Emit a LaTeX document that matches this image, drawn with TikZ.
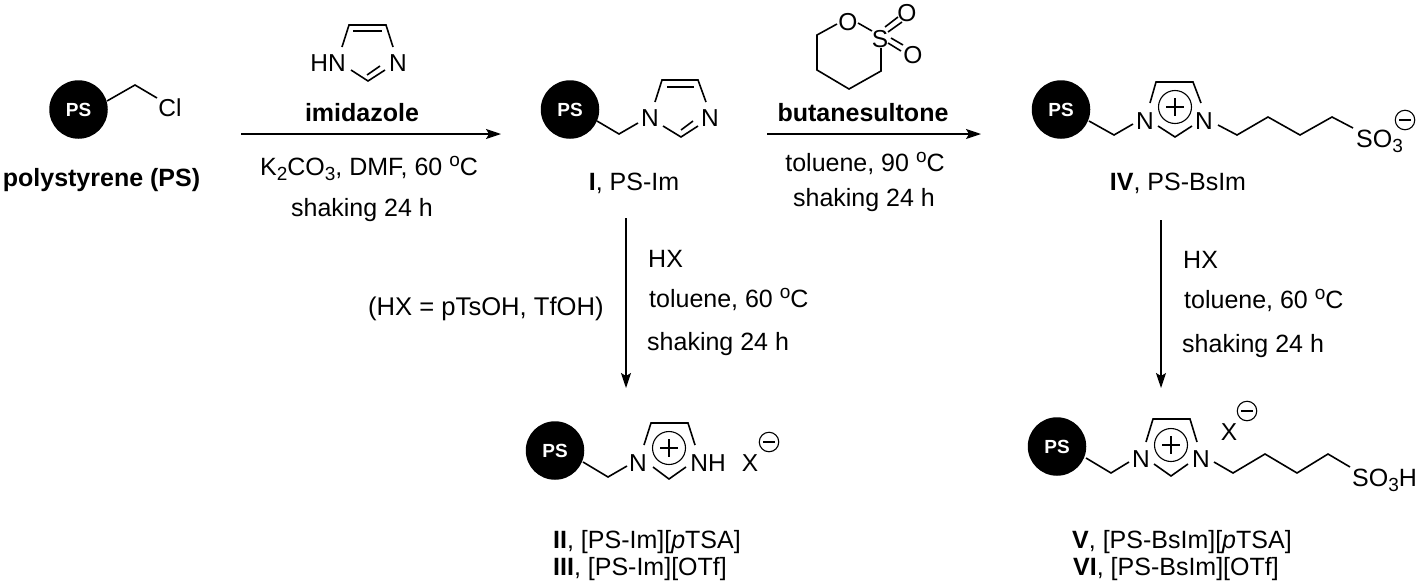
\documentclass[tikz,border=0pt]{standalone}
\usepackage{fontspec}
\setmainfont{Liberation Sans}
\usetikzlibrary{arrows.meta,calc}
\newcommand{\lowr}[1]{\raisebox{-5pt}{\fontsize{19}{20}\selectfont #1}}
\newcommand{\upr}[1]{\raisebox{9pt}{\fontsize{19}{20}\selectfont #1}}
\tikzset{
  ball/.style={circle,fill=black,text=white,minimum size=58.5pt,inner sep=0pt,font=\fontsize{19}{20}\selectfont\bfseries},
  atom/.style={inner sep=0pt,font=\fontsize{24.5}{28}\selectfont},
  txt/.style={inner sep=0pt,anchor=base,font=\fontsize{25}{28}\selectfont},
  txtl/.style={inner sep=0pt,anchor=base west,font=\fontsize{25}{28}\selectfont},
  bond/.style={line width=1.6pt,line join=miter},
  rxn/.style={line width=1.4pt,-{Stealth[length=15pt,width=10pt,inset=3pt]}},
  chargeplus/.style={circle,draw,line width=1.1pt,minimum size=33pt,inner sep=0pt},
  chargeminus/.style={circle,draw,line width=1.1pt,minimum size=19.5pt,inner sep=0pt},
  sign/.style={line width=1.1pt}
}
\newcommand{\plusin}[1]{\draw[sign] ($(#1)+(-9,0)$) -- ($(#1)+(9,0)$) ($(#1)+(0,-9)$) -- ($(#1)+(0,9)$);}
\newcommand{\minusin}[1]{\draw[sign] ($(#1)+(-6,0)$) -- ($(#1)+(6,0)$);}
\begin{document}
\begin{tikzpicture}[x=1pt,y=-1pt]
\useasboundingbox (0,0) rectangle (1419,582);
% polystyrene
\node[ball] (ps0) at (78.5,109.5) {PS};
\node[atom] (cl) at (170,108) {Cl};
\draw[bond] (107,101) -- (135,85) -- (157,98);
\node[txt] (l0) at (101.5,186) {\bfseries polystyrene (PS)};
% imidazole
\node[atom] (hn) at (328,63) {HN};
\node[atom] (n0) at (398,63) {N};
\draw[bond] (342,47) -- (349,25) -- (386,25) -- (393,47);
\draw[bond] (353,31) -- (382,31);
\draw[bond] (351,70) -- (368,81) -- (385,70);
\draw[bond] (367,75) -- (380,66);
\node[txt] (imi) at (362,121) {\bfseries imidazole};
\coordinate (a1s) at (241,134);
\coordinate (a1e) at (501,134);
\draw[rxn] (a1s) -- (a1e);
\node[txt] (c1) at (369,175) {K\lowr{2}CO\lowr{3}, DMF, 60 \upr{o}C};
\node[txt] (c2) at (362,216) {shaking 24 h};
% I
\node[ball] (ps1) at (570,109.5) {PS};
\node[atom] (n1a) at (650,118) {N};
\node[atom] (n1b) at (710,118) {N};
\draw[bond] (597,121) -- (619,134) -- (638,123);
\draw[bond] (655,102) -- (662,80) -- (698,80) -- (706,102);
\draw[bond] (667,87) -- (694,87);
\draw[bond] (663,126) -- (681,137) -- (698,126);
\draw[bond] (681,130) -- (693,121);
\node[txt] (l1) at (634,190) {\bfseries I\mdseries, PS-Im};
% sultone
\node[atom] (so) at (848,22) {O};
\node[atom] (ss) at (880,39) {S};
\node[atom] (so1) at (907,13) {O};
\node[atom] (so2) at (913,55) {O};
\draw[bond] (837,24) -- (817,35) -- (817,70) -- (849,89) -- (881,71) -- (881,48);
\draw[bond] (858,23) -- (872,31);
\draw[bond] (885,27) -- (898,17) (888,32) -- (902,22);
\draw[bond] (891,38) -- (903,45) (888,43) -- (901,51);
\node[txt] (but) at (863,121) {\bfseries butanesultone};
\coordinate (a2s) at (767,134);
\coordinate (a2e) at (981,134);
\draw[rxn] (a2s) -- (a2e);
\node[txt] (d1) at (865,171) {toluene, 90 \upr{o}C};
\node[txt] (d2) at (864,206) {shaking 24 h};
% IV
\node[ball] (ps4) at (1061,109.5) {PS};
\node[atom] (n4a) at (1145,121) {N};
\node[atom] (n4b) at (1204,121) {N};
\draw[bond] (1089,121) -- (1114,135) -- (1133,124);
\draw[bond] (1150,103) -- (1156,82) -- (1193,82) -- (1201,103);
\draw[bond] (1158,126) -- (1175,137) -- (1192,126);
\node[chargeplus] (p4) at (1175,107) {};
\plusin{p4}
\draw[bond] (1218,125) -- (1237,135) -- (1268,117) -- (1300,135) -- (1332,117) -- (1353,128);
\node[txtl] (so3) at (1356,147) {SO\lowr{3}};
\node[chargeminus] (m4) at (1405,120) {};
\minusin{m4}
\node[txt] (l4) at (1178,190) {\bfseries IV\mdseries, PS-BsIm};
% left vertical
\coordinate (a3s) at (626,218);
\coordinate (a3e) at (626,388);
\draw[rxn] (a3s) -- (a3e);
\node[txtl] (e1) at (648,267) {HX};
\node[txtl] (e2) at (649,307) {toluene, 60 \upr{o}C};
\node[txtl] (e3) at (647,350) {shaking 24 h};
\node[txtl,font=\fontsize{25.6}{28}\selectfont] (e4) at (368,315) {(HX = pTsOH, TfOH)};
% right vertical
\coordinate (a4s) at (1161,220);
\coordinate (a4e) at (1161,388);
\draw[rxn] (a4s) -- (a4e);
\node[txtl] (f1) at (1183,268) {HX};
\node[txtl] (f2) at (1184,308) {toluene, 60 \upr{o}C};
\node[txtl] (f3) at (1182,352) {shaking 24 h};
% II/III
\node[ball] (ps2) at (555,450.5) {PS};
\node[atom] (n2a) at (638,463) {N};
\node[atom] (n2b) at (708,463) {NH};
\draw[bond] (583,462) -- (608,477) -- (627,466);
\draw[bond] (644,445) -- (651,423) -- (688,423) -- (695,445);
\draw[bond] (653,467) -- (669,479) -- (686,467);
\node[chargeplus] (p2) at (669,448) {};
\plusin{p2}
\node[atom] (x2) at (750,463) {X};
\node[chargeminus] (m2) at (769,442) {};
\minusin{m2}
\node[txtl] (l2) at (553,548) {\bfseries II\mdseries, [PS-Im][\itshape p\upshape TSA]};
\node[txtl] (l3) at (553,575) {\bfseries III\mdseries, [PS-Im][OTf]};
% V/VI
\node[ball] (ps5) at (1057,446.5) {PS};
\node[atom] (n5a) at (1141,459) {N};
\node[atom] (n5b) at (1201,459) {N};
\draw[bond] (1086,458) -- (1111,473) -- (1129,462);
\draw[bond] (1146,442) -- (1153,419) -- (1190,419) -- (1197,442);
\draw[bond] (1154,464) -- (1171,476) -- (1188,464);
\node[chargeplus] (p5) at (1171,445) {};
\plusin{p5}
\node[atom] (x5) at (1229,432) {X};
\node[chargeminus] (m5) at (1247,411) {};
\minusin{m5}
\draw[bond] (1214,462) -- (1233,473) -- (1265,454) -- (1297,473) -- (1328,454) -- (1350,467);
\node[txtl] (so3h) at (1352,486) {SO\lowr{3}H};
\node[txtl] (l5) at (1072,548) {\bfseries V\mdseries, [PS-BsIm][\itshape p\upshape TSA]};
\node[txtl] (l6) at (1073,575) {\bfseries VI\mdseries, [PS-BsIm][OTf]};
\end{tikzpicture}
\end{document}
